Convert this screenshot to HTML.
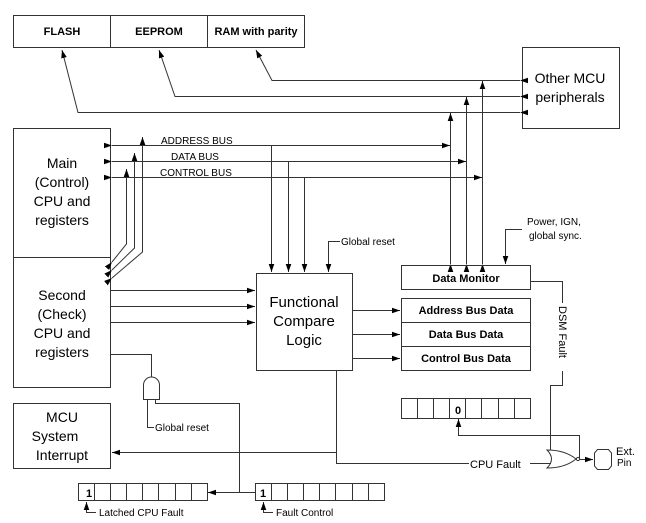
<!DOCTYPE html>
<html><head><meta charset="utf-8"><style>
html,body{margin:0;padding:0;background:#fff}
svg{display:block}
text{font-family:"Liberation Sans",Arial,sans-serif;fill:#000}
</style></head><body>
<svg width="646" height="523" viewBox="0 0 646 523" xmlns="http://www.w3.org/2000/svg">
<defs>
<marker id="a" viewBox="0 0 10 10" refX="10" refY="5" markerWidth="8" markerHeight="8" markerUnits="userSpaceOnUse" orient="auto"><path d="M0,1.5 L10,5 L0,8.5z" fill="#000"/></marker>
</defs>
<g fill="none" stroke="#333" stroke-width="1">
<!-- top memory boxes -->
<rect x="13.5" y="15.5" width="291" height="32" fill="#fff"/>
<line x1="110.5" y1="15" x2="110.5" y2="47"/>
<line x1="207.5" y1="15" x2="207.5" y2="47"/>
<rect x="522.5" y="47.5" width="97" height="81"/>
<!-- mem lines -->
<polyline points="520,80.5 272,80.5 256,50" marker-end="url(#a)" marker-start="url(#a)"/>
<polyline points="520,96.5 175,96.5 159,50" marker-end="url(#a)" marker-start="url(#a)"/>
<polyline points="520,112.5 78,112.5 62,50" marker-end="url(#a)" marker-start="url(#a)"/>
<!-- CPU boxes -->
<rect x="13.5" y="128.5" width="97" height="259"/>
<line x1="13" y1="257.5" x2="110" y2="257.5"/>
<rect x="13.5" y="403.5" width="97" height="65"/>
<!-- buses -->
<line x1="112" y1="145.5" x2="450" y2="145.5" marker-start="url(#a)" marker-end="url(#a)"/>
<line x1="112" y1="161.5" x2="466" y2="161.5" marker-start="url(#a)" marker-end="url(#a)"/>
<line x1="112" y1="177.5" x2="482" y2="177.5" marker-start="url(#a)" marker-end="url(#a)"/>
<!-- verticals to bus from second cpu -->
<polyline points="112,278 142.5,252 142.5,137" marker-start="url(#a)" marker-end="url(#a)"/>
<polyline points="112,270 134.5,248 134.5,153" marker-start="url(#a)" marker-end="url(#a)"/>
<polyline points="112,262 126.5,244 126.5,169" marker-start="url(#a)" marker-end="url(#a)"/>
<!-- bus drops to FCL -->
<line x1="271.5" y1="145" x2="271.5" y2="272" marker-end="url(#a)"/>
<line x1="288.5" y1="161" x2="288.5" y2="272" marker-end="url(#a)"/>
<line x1="304.5" y1="177" x2="304.5" y2="272" marker-end="url(#a)"/>
<polyline points="340,241.5 328.5,241.5 328.5,272" marker-end="url(#a)"/>
<!-- verticals to data monitor/peripherals -->
<line x1="450.5" y1="264" x2="450.5" y2="113" marker-start="url(#a)" marker-end="url(#a)"/>
<line x1="466.5" y1="264" x2="466.5" y2="97" marker-start="url(#a)" marker-end="url(#a)"/>
<line x1="482.5" y1="264" x2="482.5" y2="81" marker-start="url(#a)" marker-end="url(#a)"/>
<polyline points="522,229.5 505.5,229.5 505.5,264" marker-end="url(#a)"/>
<!-- FCL -->
<rect x="256.5" y="273.5" width="96" height="97"/>
<line x1="110" y1="290.5" x2="255" y2="290.5" marker-end="url(#a)"/>
<line x1="110" y1="306.5" x2="255" y2="306.5" marker-end="url(#a)"/>
<line x1="110" y1="322.5" x2="255" y2="322.5" marker-end="url(#a)"/>
<!-- data monitor & data regs -->
<rect x="401.5" y="265.5" width="129" height="24"/>
<rect x="401.5" y="298.5" width="129" height="72"/>
<line x1="401" y1="322.5" x2="530" y2="322.5"/>
<line x1="401" y1="346.5" x2="530" y2="346.5"/>
<line x1="352" y1="310.5" x2="400" y2="310.5" marker-end="url(#a)"/>
<line x1="352" y1="334.5" x2="400" y2="334.5" marker-end="url(#a)"/>
<line x1="352" y1="358.5" x2="400" y2="358.5" marker-end="url(#a)"/>
<!-- DSM fault -->
<polyline points="530,281.5 562.5,281.5 562.5,303"/>
<polyline points="562.5,371 562.5,385.5 550.5,385.5 550.5,452 556,452"/>
<!-- register 0 -->
<rect x="401.5" y="398.5" width="129" height="20"/>
<line x1="417.5" y1="398" x2="417.5" y2="418"/><line x1="433.5" y1="398" x2="433.5" y2="418"/><line x1="449.5" y1="398" x2="449.5" y2="418"/><line x1="465.5" y1="398" x2="465.5" y2="418"/><line x1="481.5" y1="398" x2="481.5" y2="418"/><line x1="498.5" y1="398" x2="498.5" y2="418"/><line x1="514.5" y1="398" x2="514.5" y2="418"/>
<polyline points="579.5,459 579.5,435.5 458.5,435.5 458.5,419" marker-end="url(#a)"/>
<!-- OR gate -->
<path d="M547,450 Q556,459 547,468 Q565,468 576,459 Q565,450 547,450z" fill="#fff"/>
<circle cx="578" cy="459" r="1.6"/>
<line x1="580" y1="459.5" x2="593" y2="459.5" marker-end="url(#a)"/>
<path d="M597.5,449.5 L608.5,449.5 L611.5,453 L611.5,466 L608.5,469.5 L597.5,469.5 L594.5,466 L594.5,453z"/>
<!-- CPU fault line -->
<polyline points="336.5,370 336.5,463.5 469,463.5"/>
<line x1="530" y1="463.5" x2="551" y2="463.5"/>
<line x1="336" y1="452.5" x2="112" y2="452.5" marker-end="url(#a)"/>
<!-- AND gate -->
<polyline points="110,354.5 151.5,354.5 151.5,377"/>
<path d="M143.5,399.5 L143.5,385 A8,8 0 0 1 159.5,385 L159.5,399.5z" fill="#fff"/>
<polyline points="147.5,400 147.5,427.5 154,427.5"/>
<polyline points="155.5,400 155.5,403.5 239.5,403.5 239.5,492.5"/>
<!-- bottom registers -->
<rect x="78.5" y="483.5" width="129" height="17"/>
<line x1="94.5" y1="483" x2="94.5" y2="500"/><line x1="110.5" y1="483" x2="110.5" y2="500"/><line x1="126.5" y1="483" x2="126.5" y2="500"/><line x1="142.5" y1="483" x2="142.5" y2="500"/><line x1="158.5" y1="483" x2="158.5" y2="500"/><line x1="175.5" y1="483" x2="175.5" y2="500"/><line x1="191.5" y1="483" x2="191.5" y2="500"/>
<rect x="255.5" y="483.5" width="129" height="17"/>
<line x1="271.5" y1="483" x2="271.5" y2="500"/><line x1="287.5" y1="483" x2="287.5" y2="500"/><line x1="303.5" y1="483" x2="303.5" y2="500"/><line x1="319.5" y1="483" x2="319.5" y2="500"/><line x1="335.5" y1="483" x2="335.5" y2="500"/><line x1="352.5" y1="483" x2="352.5" y2="500"/><line x1="368.5" y1="483" x2="368.5" y2="500"/>
<line x1="255" y1="492.5" x2="208" y2="492.5" marker-end="url(#a)"/>
<polyline points="96,512.5 86.5,512.5 86.5,502" marker-end="url(#a)"/>
<polyline points="273,512.5 263.5,512.5 263.5,502" marker-end="url(#a)"/>
</g>
<!-- text -->
<g font-size="11" font-weight="bold" text-anchor="middle">
<text x="62" y="35">FLASH</text>
<text x="159" y="35">EEPROM</text>
<text x="256" y="35">RAM with parity</text>
<text x="466" y="282">Data Monitor</text>
<text x="466" y="314">Address Bus Data</text>
<text x="466" y="338">Data Bus Data</text>
<text x="466" y="362">Control Bus Data</text>
<text x="458" y="414">0</text>
<text x="86" y="497" text-anchor="start" x2="0">1</text>
<text x="263" y="497">1</text>
</g>
<g font-size="14" text-anchor="middle">
<text x="62" y="168">Main</text>
<text x="62" y="187">(Control)</text>
<text x="62" y="206">CPU and</text>
<text x="62" y="225">registers</text>
<text x="62" y="300">Second</text>
<text x="62" y="319">(Check)</text>
<text x="62" y="338">CPU and</text>
<text x="62" y="357">registers</text>
<text x="62" y="422">MCU</text>
<text x="55" y="441">System</text>
<text x="62" y="460">Interrupt</text>
<text x="570" y="83">Other MCU</text>
<text x="570" y="102">peripherals</text>
</g>
<g font-size="15" text-anchor="middle">
<text x="304" y="307">Functional</text>
<text x="304" y="326">Compare</text>
<text x="304" y="345">Logic</text>
</g>
<g font-size="10">
<text x="161" y="144">ADDRESS BUS</text>
<text x="171" y="160">DATA BUS</text>
<text x="160" y="176">CONTROL BUS</text>
<text x="341" y="245">Global reset</text>
<text x="527" y="225">Power, IGN,</text>
<text x="529" y="239">global sync.</text>
<text x="155" y="431">Global reset</text>
<text x="99" y="516">Latched CPU Fault</text>
<text x="276" y="516">Fault Control</text>
<text x="617" y="466">Pin</text>
</g>
<text x="470" y="468" font-size="11">CPU Fault</text>
<text x="616" y="455" font-size="11">Ext.</text>
<text x="0" y="0" font-size="11" transform="translate(559,306) rotate(90)">DSM Fault</text>
</svg>
</body></html>
